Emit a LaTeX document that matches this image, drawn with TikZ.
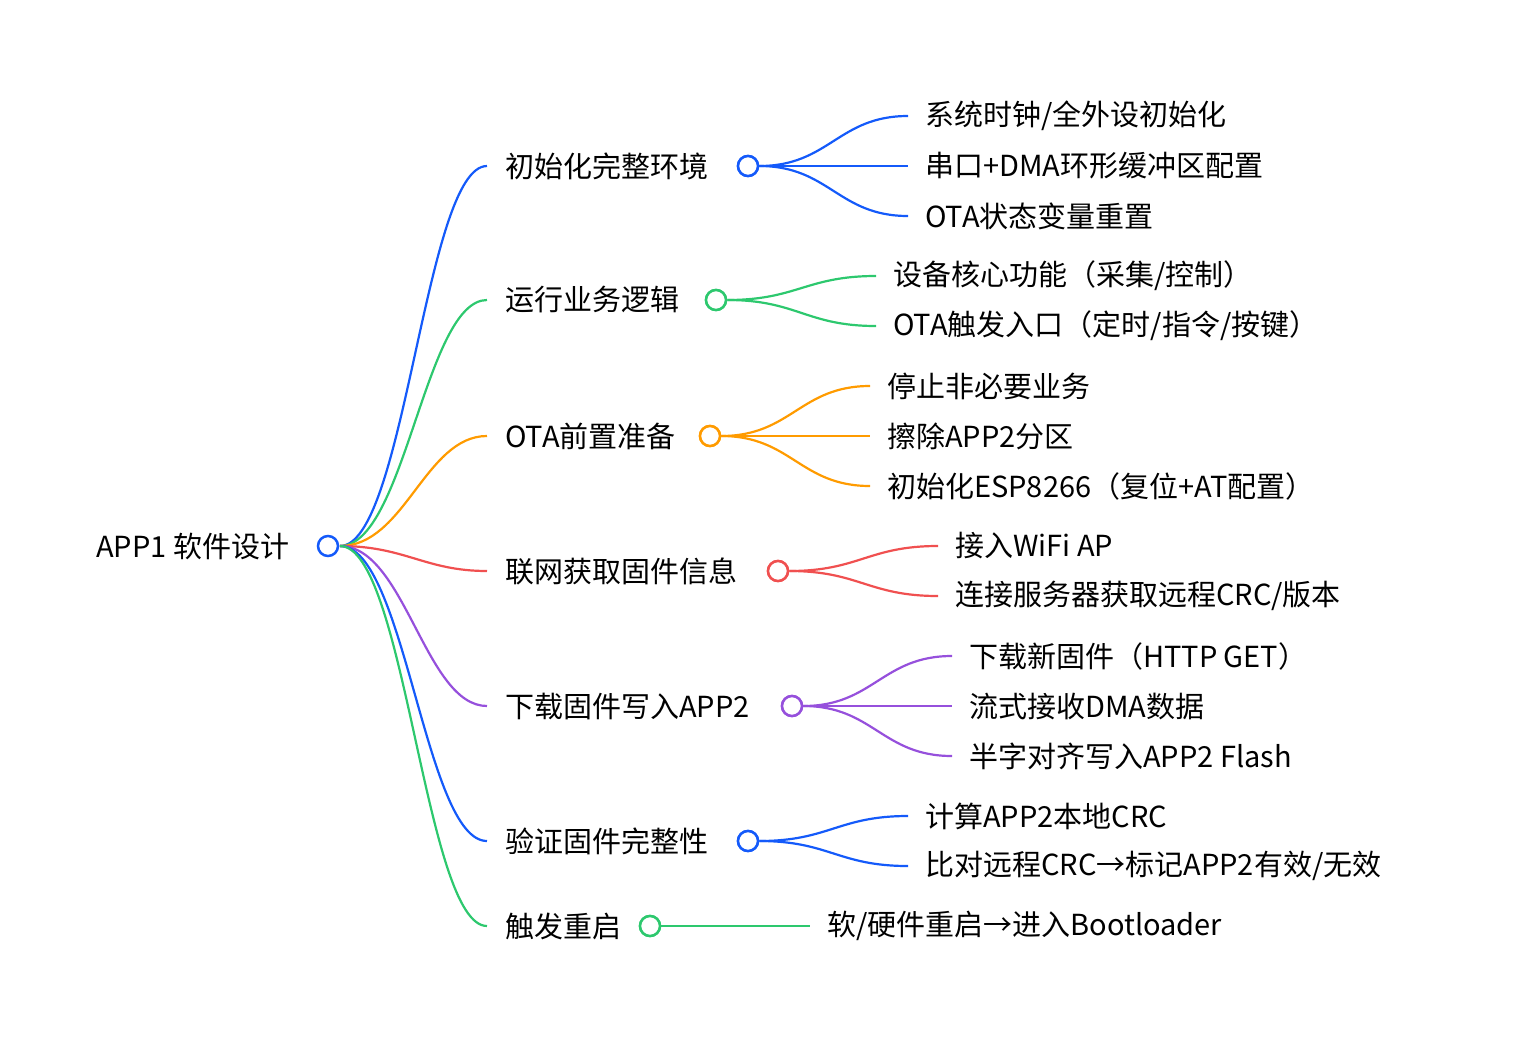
\documentclass[tikz,border=0pt]{standalone}
\usepackage{fontspec}
\setmainfont{Noto Sans CJK SC}
\definecolor{cb}{RGB}{20,90,250}
\definecolor{cg}{RGB}{45,200,110}
\definecolor{co}{RGB}{255,155,0}
\definecolor{cr}{RGB}{240,80,80}
\definecolor{cp}{RGB}{150,80,220}
\begin{document}
\begin{tikzpicture}[x=1pt,y=-1pt,
  lbl/.style={anchor=west,inner sep=0pt,font=\fontsize{29}{34}\selectfont},
  dot/.style={circle,draw=#1,fill=white,line width=2.5pt,minimum size=20pt,inner sep=0pt},
  br/.style={draw=#1,line width=2.2pt}]
\useasboundingbox (0,0) rectangle (1526,1042);
\node[lbl] (root) at (96,546) {APP1 软件设计};
% main branch: name, color, y, text, circle x, child x
\newcommand\mainb[6]{%
  \node[lbl] (t#1) at (505,#3) {#4};
  \coordinate (s#1) at (487,#3);
  \draw[br=#2] (s#1) -- ++(0,0);
  \node[dot=#2] (c#1) at (#5,#3) {};
  \draw[br=#2] (340,546) .. controls (405,546) and (425,#3) .. (s#1);
}
\newcommand\childb[6]{% parent, color, y, x end, text, id
  \coordinate (e#6) at (#4,#3);
  \node[lbl] (n#6) at (#4+17,#3) {#5};
  \draw[br=#2] (c#1.east) .. controls ([xshift=70]c#1.east) and ([xshift=-70]e#6) .. (e#6);
}
\mainb{1}{cb}{166}{初始化完整环境}{748}{}
\mainb{2}{cg}{300}{运行业务逻辑}{716}{}
\mainb{3}{co}{436}{OTA前置准备}{710}{}
\mainb{4}{cr}{571}{联网获取固件信息}{778}{}
\mainb{5}{cp}{706}{下载固件写入APP2}{792}{}
\mainb{6}{cb}{841}{验证固件完整性}{748}{}
\mainb{7}{cg}{926}{触发重启}{650}{}
\childb{1}{cb}{116}{908}{系统时钟/全外设初始化}{a}
\childb{1}{cb}{166}{908}{串口+DMA环形缓冲区配置}{b}
\childb{1}{cb}{216}{908}{OTA状态变量重置}{c}
\childb{2}{cg}{276}{876}{设备核心功能（采集/控制）}{d}
\childb{2}{cg}{326}{876}{OTA触发入口（定时/指令/按键）}{e}
\childb{3}{co}{386}{870}{停止非必要业务}{f}
\childb{3}{co}{436}{870}{擦除APP2分区}{g}
\childb{3}{co}{486}{870}{初始化ESP8266（复位+AT配置）}{h}
\childb{4}{cr}{546}{938}{接入WiFi AP}{i}
\childb{4}{cr}{596}{938}{连接服务器获取远程CRC/版本}{j}
\childb{5}{cp}{656}{952}{下载新固件（HTTP GET）}{k}
\childb{5}{cp}{706}{952}{流式接收DMA数据}{l}
\childb{5}{cp}{756}{952}{半字对齐写入APP2 Flash}{m}
\childb{6}{cb}{816}{908}{计算APP2本地CRC}{n}
\childb{6}{cb}{866}{908}{比对远程CRC→标记APP2有效/无效}{o}
\childb{7}{cg}{926}{810}{软/硬件重启→进入Bootloader}{p}
\node[dot=cb] (rc) at (328,546) {};
\foreach \i/\c in {1/cb,2/cg,3/co,4/cr,5/cp,6/cb,7/cg} \node[dot=\c] at (c\i) {};
\end{tikzpicture}
\end{document}
